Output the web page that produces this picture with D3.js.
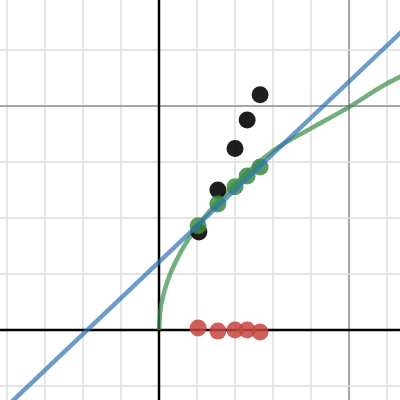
<!DOCTYPE html><html><head><script src="https://cdn.jsdelivr.net/npm/d3@7"></script>
<style>body{margin:0}svg{display:block}</style></head><body><script>
const blackX=[1.05,1.55,2.0,2.32,2.66], blackY=[0.875,1.25,1.62,1.875,2.1];
const greenX=[1.03,1.55,2.0,2.32,2.66], greenY=[0.93,1.125,1.28,1.375,1.455];
const redX=[1.03,1.55,2.0,2.32,2.66], redY=[0.018,-0.01,0,0,-0.018];
const lineX=[-4.2,6.4], lineY=[-0.745,2.668];
const curveX=[0,0.03,0.1,0.25,0.5,1,2,3,4,5,6,6.4], curveY=[0,0.16,0.29,0.46,0.65,0.92,1.3,1.6,1.8,1.99,2.2,2.27];
const W=400,H=400;
const x=d3.scaleLinear().domain([-159/38,241/38]).range([0,W]);
const y=d3.scaleLinear().domain([-70/112,330/112]).range([H,0]);
const svg=d3.select("body").append("svg").attr("width",W).attr("height",H);
svg.append("rect").attr("width",W).attr("height",H).attr("fill","#fff");
const xt=d3.range(-4,7), yt=d3.range(-0.5,3,0.5);
svg.selectAll(".vx").data(xt).join("line").attr("x1",d=>x(d)).attr("x2",d=>x(d)).attr("y1",0).attr("y2",H)
 .attr("stroke",d=>d%5===0&&d!==0?"#888":"#ddd").attr("stroke-width",d=>d%5===0&&d!==0?1.5:1.5);
svg.selectAll(".hy").data(yt).join("line").attr("y1",d=>y(d)).attr("y2",d=>y(d)).attr("x1",0).attr("x2",W)
 .attr("stroke",d=>d%2===0&&d!==0?"#888":"#ddd").attr("stroke-width",1.5);
svg.append("line").attr("x1",x(0)).attr("x2",x(0)).attr("y1",0).attr("y2",H).attr("stroke","#000").attr("stroke-width",2.5);
svg.append("line").attr("y1",y(0)).attr("y2",y(0)).attr("x1",0).attr("x2",W).attr("stroke","#000").attr("stroke-width",2.5);
const ln=d3.line().x(d=>x(d[0])).y(d=>y(d[1]));
svg.append("path").attr("d",d3.line().curve(d3.curveMonotoneX).x(d=>x(d[0])).y(d=>y(d[1]))(d3.zip(curveX,curveY)))
 .attr("fill","none").attr("stroke","#388c46").attr("stroke-opacity",0.7).attr("stroke-width",4.5);
const dots=(X,Y,c,o)=>svg.append("g").selectAll("circle").data(d3.zip(X,Y)).join("circle")
 .attr("cx",d=>x(d[0])).attr("cy",d=>y(d[1])).attr("r",8.5).attr("fill",c).attr("fill-opacity",o);
dots(redX,redY,"#c74440",0.85);
dots(blackX,blackY,"#000",0.88);
dots(greenX,greenY,"#388c46",0.85);
svg.append("path").attr("d",ln(d3.zip(lineX,lineY))).attr("fill","none").attr("stroke","#2d70b3").attr("stroke-opacity",0.7).attr("stroke-width",4.5);
</script></body></html>
